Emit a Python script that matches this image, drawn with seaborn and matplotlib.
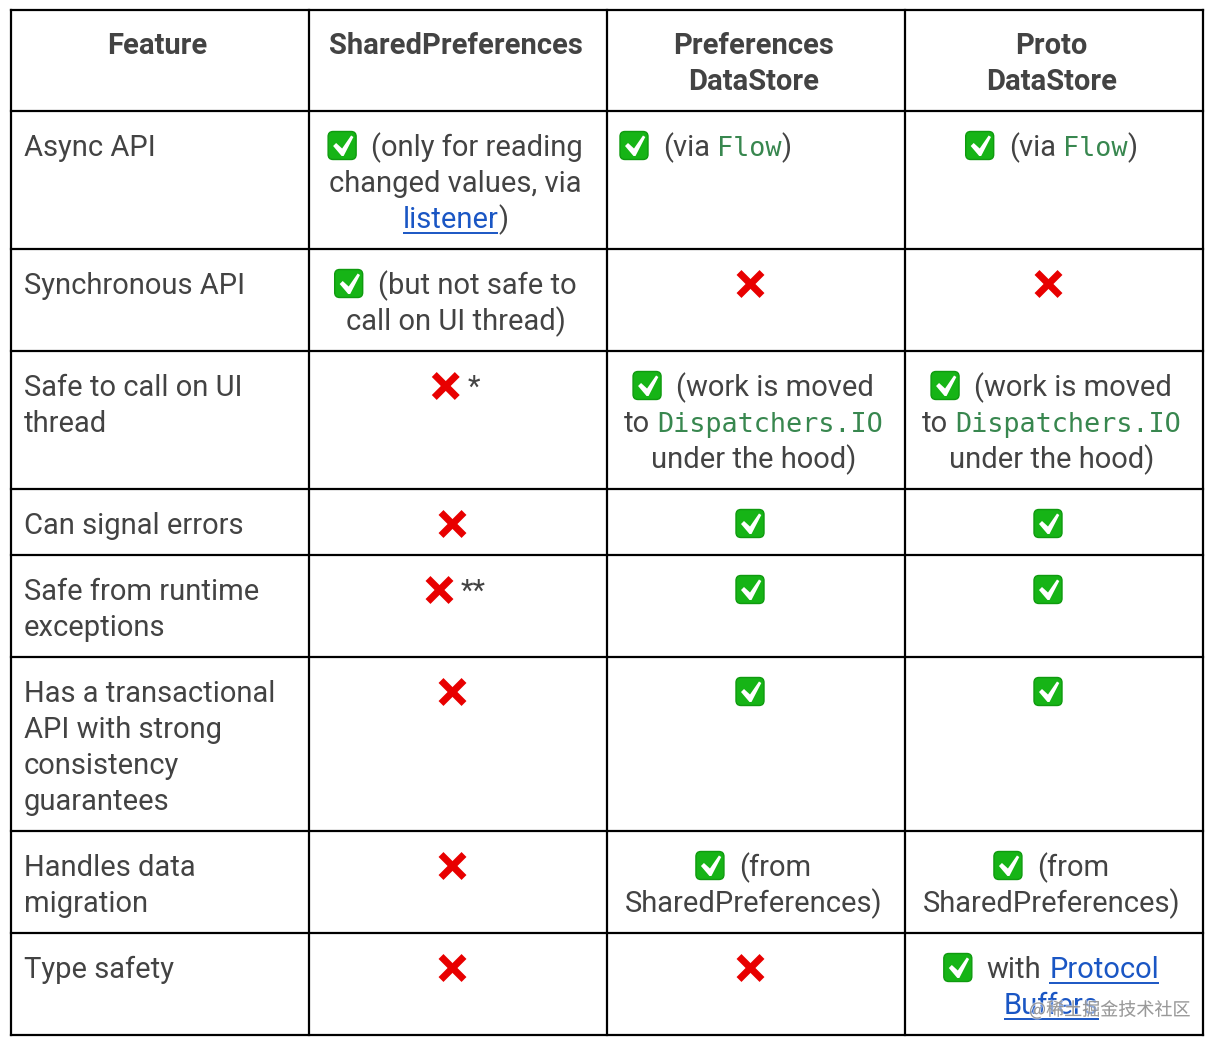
import matplotlib
matplotlib.use("Agg")
import matplotlib.pyplot as plt
import matplotlib.patheffects as pe
from matplotlib.patches import FancyBboxPatch, Polygon
import pandas as pd
import seaborn as sns

# cell content, one list of runs per line
# run kinds: t = plain, b = bold, c = code, l = link, yes / no = emoji
features = [
    ["Async API"],
    ["Synchronous API"],
    ["Safe to call on UI", "thread"],
    ["Can signal errors"],
    ["Safe from runtime", "exceptions"],
    ["Has a transactional", "API with strong", "consistency", "guarantees"],
    ["Handles data", "migration"],
    ["Type safety"],
]
headers = [
    ["Feature"],
    ["SharedPreferences"],
    ["Preferences", "DataStore"],
    ["Proto", "DataStore"],
]
YES = [[("yes", "")]]
NO = [[("no", "")]]
shared = [
    [[("yes", ""), ("t", "(only for reading")], [("t", "changed values, via")], [("l", "listener"), ("t", ")")]],
    [[("yes", ""), ("t", "(but not safe to")], [("t", "call on UI thread)")]],
    [[("no", ""), ("t", "*")]],
    NO,
    [[("no", ""), ("t", "**")]],
    NO,
    NO,
    NO,
]
moved = [[("yes", ""), ("t", "(work is moved")], [("t", "to"), ("c", "Dispatchers.IO")], [("t", "under the hood)")]]
migr = [[("yes", ""), ("t", "(from")], [("t", "SharedPreferences)")]]
flow = [[("yes", ""), ("t", "(via"), ("c", "Flow"), ("t", ")")]]
prefs = [flow, NO, moved, YES, YES, YES, migr, NO]
proto = [
    flow, NO, moved, YES, YES, YES, migr,
    [[("yes", ""), ("t", "with"), ("l", "Protocol")], [("l", "Buffers")]],
]
watermark = "@稀土掘金技术社区"

# layout in pixels
W, H = 1218, 1048
col_edges = [11, 309, 607, 905, 1203]
row_edges = [9.5, 111, 249, 351, 489, 555, 657, 831, 933, 1035]
header_baseline = 54
body_offset = 45  # first baseline below a row's top rule
line_h = 36
emoji = 29
TEXT = "#434343"
LINK = "#1a56c4"
CODE = "#38874f"
FS = 21.0

sns.set_theme(style="white")
plt.rcParams["font.family"] = ["Roboto", "Noto Sans CJK SC", "DejaVu Sans"]

fig, ax = plt.subplots(figsize=(W / 100, H / 100), dpi=100)
fig.subplots_adjust(0, 0, 1, 1)

# rules of the table
rules = []
for i, y in enumerate(row_edges):
    rules += [("h%d" % i, col_edges[0], y), ("h%d" % i, col_edges[-1], y)]
for i, x in enumerate(col_edges):
    rules += [("v%d" % i, x, row_edges[0]), ("v%d" % i, x, row_edges[-1])]
rules = pd.DataFrame(rules, columns=["rule", "x", "y"])
sns.lineplot(data=rules, x="x", y="y", units="rule", estimator=None, sort=False,
             color="black", linewidth=1.6, solid_capstyle="projecting", ax=ax, legend=False)
ax.set_xlim(0, W)
ax.set_ylim(H, 0)
ax.axis("off")
renderer = fig.canvas.get_renderer()


def run_style(kind):
    if kind == "b":
        return dict(color=TEXT, fontsize=FS, fontweight="bold")
    if kind == "c":
        return dict(color=CODE, fontsize=19.4, family="DejaVu Sans Mono")
    if kind == "l":
        return dict(color=LINK, fontsize=FS)
    return dict(color=TEXT, fontsize=FS)


def draw_yes(x, base):
    top = base - 24.5
    ax.add_patch(FancyBboxPatch((x + 4, top + 4), emoji - 9, emoji - 9,
                                boxstyle="round,pad=4,rounding_size=5",
                                fc="#16b416", ec="#0f9a0f", lw=1, zorder=3))
    # tapered tick, like the emoji glyph
    tick = [(5, 14.5), (8, 11.5), (14, 17), (23, 4), (25.3, 5.5), (15.5, 24.5), (13.5, 24.5)]
    ax.add_patch(Polygon([(x + a, top + b) for a, b in tick], fc="white", ec="none", zorder=4))


def draw_no(x, base):
    top = base - 24.5
    ax.plot([x + 3, x + emoji - 3], [top + 3, top + emoji - 3], color="#e80000", lw=5,
            solid_capstyle="butt", zorder=3)
    ax.plot([x + 3, x + emoji - 3], [top + emoji - 3, top + 3], color="#e80000", lw=5,
            solid_capstyle="butt", zorder=3)


def gap_after(kind, next_kind):
    if kind in ("yes", "no"):
        return 14 if kind == "yes" or next_kind != "t" else 7
    if next_kind == "c":
        return 7
    if next_kind == "l":
        return 8
    return 0


def draw_line(runs, left, center, base):
    # measure first, then place the runs one after another
    widths = []
    for kind, s in runs:
        if kind in ("yes", "no"):
            widths.append(emoji)
        else:
            t = ax.text(0, 0, s, **run_style(kind))
            widths.append(t.get_window_extent(renderer).width)
            t.remove()
    total = sum(widths)
    for a, b in zip(runs, runs[1:]):
        total += gap_after(a[0], b[0])
    if len(runs) == 1 and runs[0][0] in ("yes", "no"):
        x = center - total / 2 - 5.5  # emoji keeps trailing spaces in the source table
    elif left is not None:
        x = left
    else:
        x = center - total / 2 - 2.5
    for i, (kind, s) in enumerate(runs):
        if kind == "yes":
            draw_yes(x, base)
        elif kind == "no":
            draw_no(x, base)
        else:
            ax.text(x, base, s, ha="left", va="baseline", **run_style(kind))
            if kind == "l":
                ax.plot([x, x + widths[i]], [base + 4.5, base + 4.5], color=LINK, lw=1.4,
                        solid_capstyle="butt")
        x += widths[i]
        if i + 1 < len(runs):
            x += gap_after(kind, runs[i + 1][0])


# header row
for c, lines in enumerate(headers):
    center = (col_edges[c] + col_edges[c + 1]) / 2
    for n, s in enumerate(lines):
        draw_line([("b", s)], None, center, header_baseline + n * line_h)

# body rows
for r, lines in enumerate(features):
    base = row_edges[r + 1] + body_offset
    for n, s in enumerate(lines):
        ax.text(col_edges[0] + 13, base + n * line_h, s, ha="left", va="baseline", **run_style("t"))
    for c, col in enumerate([shared, prefs, proto]):
        center = (col_edges[c + 1] + col_edges[c + 2]) / 2
        # the Async API cell of Preferences is left aligned in the source table
        left = col_edges[2] + 13 if (c == 1 and r == 0) else None
        for n, runs in enumerate(col[r]):
            draw_line(runs, left, center, base + n * line_h)

# site watermark over the last cell
ax.text(1190, 1010, watermark, ha="right", va="center", fontsize=13, color="#8c8c8c", alpha=0.85,
        family=["Noto Sans CJK SC", "DejaVu Sans"],
        path_effects=[pe.withStroke(linewidth=1.5, foreground="white", alpha=0.5)], zorder=6)

fig.savefig("out.png", dpi=100, facecolor="white")
